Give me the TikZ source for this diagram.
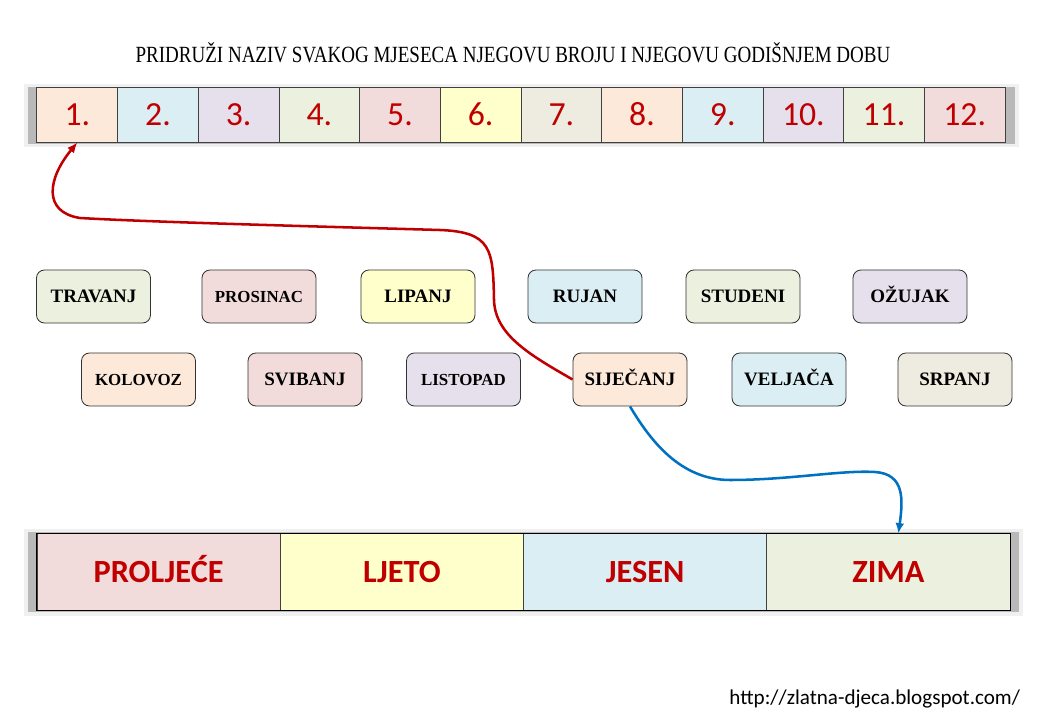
\documentclass[tikz,border=0pt]{standalone}
\usepackage{fontspec}
\setmainfont{Liberation Serif}
\newfontfamily\carlito{Carlito}
\newfontfamily\titlefont[FakeStretch=0.82]{Liberation Serif}
\usetikzlibrary{arrows.meta}

\definecolor{peach}{HTML}{FDE9D9}
\definecolor{iceblue}{HTML}{DAEEF3}
\definecolor{lavender}{HTML}{E5E0EC}
\definecolor{sage}{HTML}{EBF1DE}
\definecolor{rose}{HTML}{F2DCDB}
\definecolor{cream}{HTML}{FFFFCC}
\definecolor{stone}{HTML}{EEECE1}
\definecolor{darkred}{HTML}{C00000}
\definecolor{arrowblue}{HTML}{0070C0}

\tikzset{
  numcell/.style={draw=black!75, line width=0.7pt, minimum width=2.017cm, minimum height=1.35cm,
    inner sep=0pt, text height=5.2mm, text depth=0pt, text=darkred, font=\carlito\fontsize{24}{24}\selectfont},
  monthbox/.style={draw=black!80, line width=0.6pt, rounded corners=0.2cm, minimum width=2.85cm,
    minimum height=1.325cm, inner sep=0pt, text height=3.1mm, text depth=0pt,
    font=\bfseries\fontsize{13.5}{13.5}\selectfont},
  smallmonth/.style={text height=2.8mm, font=\bfseries\fontsize{12}{12}\selectfont},
  seasoncell/.style={draw=black!75, line width=0.7pt, minimum width=6.08cm, minimum height=1.9cm,
    inner sep=0pt, text height=5.2mm, text depth=0pt, text=darkred, font=\carlito\bfseries\fontsize{23}{23}\selectfont},
  matchline/.style={line width=1.8pt, -{Latex[length=2.6mm,width=2.2mm]}}
}

\begin{document}
\begin{tikzpicture}[x=0.025cm, y=-0.025cm]
  \useasboundingbox (0,0) rectangle (1040,720);

  \node (title) at (513,53) {\titlefont\fontsize{16.5}{18}\selectfont PRIDRUŽI NAZIV SVAKOG MJESECA NJEGOVU BROJU I NJEGOVU GODIŠNJEM DOBU};

  % brojevi
  \fill[gray!12] (24,84) rectangle (1019,147);
  \fill[gray!55] (28,87) rectangle (1015,144);
  \foreach \n/\c in {1/peach,2/iceblue,3/lavender,4/sage,5/rose,6/cream,7/stone,8/peach,9/iceblue,10/lavender,11/sage,12/rose} {
    \node[numcell, fill=\c] (N\n) at ({37+80.67*(\n-0.5)},115) {\n.};
  }

  % mjeseci
  \node[monthbox, fill=sage] (travanj) at (93.5,296.5) {TRAVANJ};
  \node[monthbox, smallmonth, fill=rose] (prosinac) at (259,296.5) {PROSINAC};
  \node[monthbox, fill=cream] (lipanj) at (418,296.5) {LIPANJ};
  \node[monthbox, fill=iceblue] (rujan) at (585,296.5) {RUJAN};
  \node[monthbox, fill=sage] (studeni) at (743,296.5) {STUDENI};
  \node[monthbox, fill=lavender] (ozujak) at (910,296.5) {OŽUJAK};
  \node[monthbox, smallmonth, fill=peach] (kolovoz) at (138.5,379.5) {KOLOVOZ};
  \node[monthbox, fill=rose] (svibanj) at (305,379.5) {SVIBANJ};
  \node[monthbox, smallmonth, fill=lavender] (listopad) at (463.5,379.5) {LISTOPAD};
  \node[monthbox, fill=peach] (sijecanj) at (630,379.5) {SIJEČANJ};
  \node[monthbox, fill=iceblue] (veljaca) at (789,379.5) {VELJAČA};
  \node[monthbox, fill=stone] (srpanj) at (955,379.5) {SRPANJ};

  % godisnja doba
  \fill[gray!12] (24,529) rectangle (1023,616);
  \fill[gray!55] (28,532) rectangle (1019,612);
  \foreach \s/\c [count=\i] in {PROLJEĆE/rose,LJETO/cream,JESEN/iceblue,ZIMA/sage} {
    \node[seasoncell, fill=\c] (S\i) at ({37+243.25*(\i-0.5)},572) {\s};
  }
  \draw[line width=1.1pt] (S1.north west) rectangle (S4.south east);

  % primjer
  \draw[matchline, darkred] (sijecanj.west) .. controls (530,355) and (495,335) .. (494,300)
    .. controls (493,250) and (492,232) .. (440,230)
    .. controls (300,226) and (150,222) .. (80,218)
    .. controls (42,212) and (48,178) .. (N1.south);
  \draw[matchline, arrowblue] (sijecanj.south) .. controls (650,440) and (680,480) .. (730,480)
    .. controls (790,480) and (840,470) .. (875,472)
    .. controls (905,474) and (903,500) .. ([xshift=0.25cm]S4.north);

  \node[anchor=east] (url) at (1025,699) {\carlito\fontsize{15}{15}\selectfont http://zlatna-djeca.blogspot.com/};
\end{tikzpicture}
\end{document}
